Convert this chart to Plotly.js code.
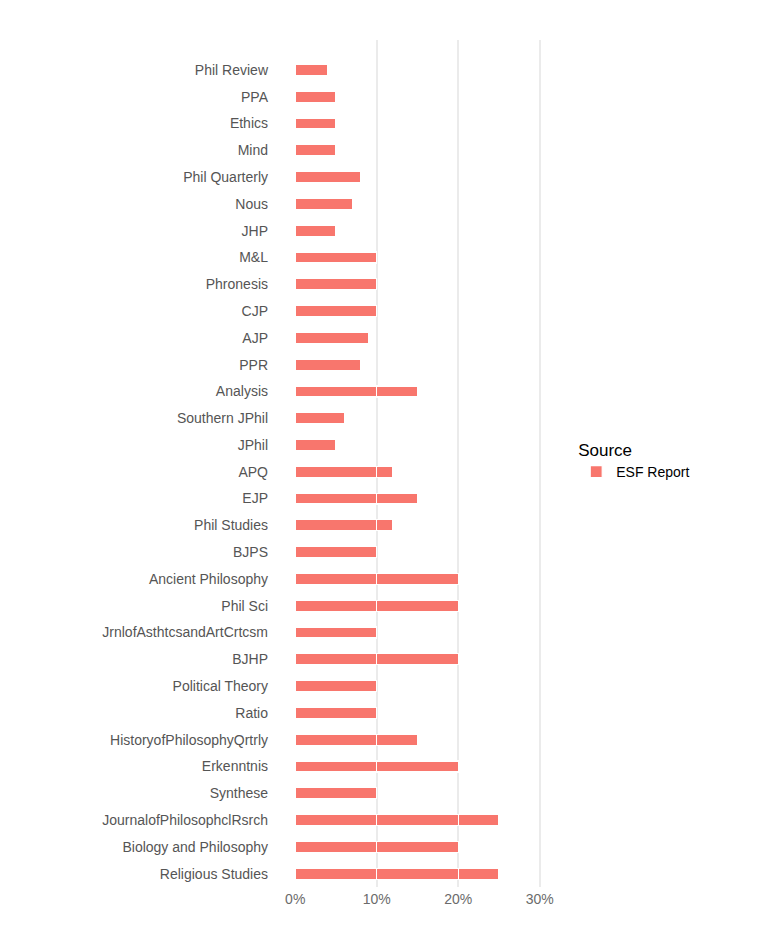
<!DOCTYPE html>
<html>
<head>
<meta charset="utf-8">
<script src="https://cdn.plot.ly/plotly-3.0.1.min.js"></script>
<style>html,body{margin:0;padding:0;background:#fff;}#chart{width:768px;height:949px;}</style>
</head>
<body>
<div id="chart"></div>
<script>
// Journals, listed top to bottom as in the chart
const journals = [
  "Phil Review", "PPA", "Ethics", "Mind", "Phil Quarterly", "Nous", "JHP", "M&L",
  "Phronesis", "CJP", "AJP", "PPR", "Analysis", "Southern JPhil", "JPhil", "APQ",
  "EJP", "Phil Studies", "BJPS", "Ancient Philosophy", "Phil Sci",
  "JrnlofAsthtcsandArtCrtcsm", "BJHP", "Political Theory", "Ratio",
  "HistoryofPhilosophyQrtrly", "Erkenntnis", "Synthese", "JournalofPhilosophclRsrch",
  "Biology and Philosophy", "Religious Studies"
];
// Share (%) from the ESF Report
const esfShare = [
  4, 5, 5, 5, 8, 7, 5, 10,
  10, 10, 9, 8, 15, 6, 5, 12,
  15, 12, 10, 20, 20,
  10, 20, 10, 10,
  15, 20, 10, 25,
  20, 25
];
const seriesName = "ESF Report";
const xTickVals = [0, 10, 20, 30];
const xTickText = ["0%", "10%", "20%", "30%"];

// The bars are drawn as stacked pieces of at most 10 points each (white seams at 10% and 20%)
const pieceSize = 10;
const nPieces = 3;
const traces = [];
for (let p = 0; p < nPieces; p++) {
  const xs = esfShare.map(v => Math.max(0, Math.min(pieceSize, v - p * pieceSize)));
  traces.push({
    type: "bar",
    orientation: "h",
    y: journals,
    x: xs,
    name: seriesName,
    legendgroup: "esf",
    showlegend: p === 0,
    width: 0.41,
    marker: {color: "#F8766D", line: {color: "#ffffff", width: 1.2}},
    hoverinfo: "skip"
  });
}

const layout = {
  width: 768, height: 949,
  margin: {l: 283, r: 216, t: 40, b: 62},
  paper_bgcolor: "#ffffff",
  plot_bgcolor: "#ffffff",
  barmode: "stack",
  font: {family: "Liberation Sans, Arial, sans-serif", color: "#4d4d4d", size: 14},
  xaxis: {
    range: [-1.5, 31.5],
    tickvals: xTickVals,
    ticktext: xTickText,
    showgrid: true,
    gridcolor: "#ebebeb",
    gridwidth: 2,
    zeroline: true,
    zerolinecolor: "rgba(0,0,0,0)",
    showline: false,
    ticks: "",
    ticklabelstandoff: 2,
    tickfont: {size: 14, color: "#6b6b6b"}
  },
  yaxis: {
    type: "category",
    categoryorder: "array",
    categoryarray: journals.slice().reverse(),
    range: [-0.5, 31.12],
    showgrid: false,
    zeroline: false,
    showline: false,
    ticks: "",
    ticklabelstandoff: 14,
    tickfont: {size: 14, color: "#555555"}
  },
  legend: {
    x: 1.09, y: 0.535, xanchor: "left", yanchor: "top",
    title: {text: "Source", font: {size: 17, color: "#000000"}},
    font: {size: 14, color: "#000000"},
    bgcolor: "rgba(0,0,0,0)",
    itemwidth: 30
  },
  showlegend: true
};

Plotly.newPlot("chart", traces, layout, {displayModeBar: false, staticPlot: true});
</script>
</body>
</html>
